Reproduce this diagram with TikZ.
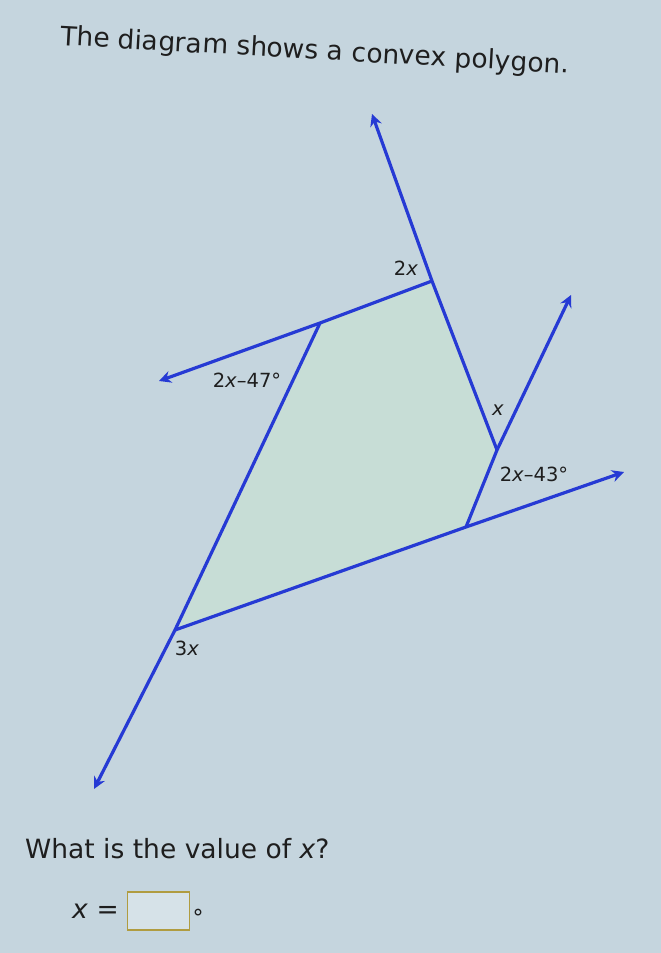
\documentclass[tikz,border=0pt]{standalone}
\usepackage{fontspec}
\setmainfont{DejaVu Sans}
\usetikzlibrary{positioning,arrows.meta}
\definecolor{screen}{RGB}{197,213,222}
\definecolor{inside}{RGB}{199,221,214}
\definecolor{rayblue}{RGB}{38,58,212}
\definecolor{boxline}{RGB}{176,156,64}
\definecolor{ink}{RGB}{30,30,30}

\begin{document}
\begin{tikzpicture}[x=1pt,y=-1pt,
        ray/.style={draw=rayblue,line width=3.2pt,line join=round,-{Stealth[length=12pt,width=12pt]}},
        angle/.style={font=\fontsize{19.5}{19.5}\selectfont,text=ink,inner sep=1pt},
        words/.style={font=\fontsize{26.5}{26.5}\selectfont,text=ink,inner sep=0pt}]
        \fill[screen] (0,0) rectangle (661,953);
        % polygon corners
        \coordinate (A) at (432,281);
        \coordinate (B) at (320,323);
        \coordinate (C) at (175,630);
        \coordinate (D) at (466,527);
        \coordinate (E) at (497,450);
        % ray ends
        \coordinate (tA) at (372,114);
        \coordinate (tB) at (159,381);
        \coordinate (tC) at (94,789);
        \coordinate (tD) at (624,472);
        \coordinate (tE) at (571,295);
        \fill[inside] (A) -- (B) -- (C) -- (D) -- (E) -- cycle;
        \draw[ray] (E) -- (A) -- (tA);
        \draw[ray] (A) -- (B) -- (tB);
        \draw[ray] (B) -- (C) -- (tC);
        \draw[ray] (C) -- (D) -- (tD);
        \draw[ray] (D) -- (E) -- (tE);
        % angle labels
        \node[angle] (a1) at (406,268) {2\textit{x}};
        \node[angle] (a2) at (247,380) {2\textit{x}–47°};
        \node[angle] (a3) at (498,410) {\textit{x}};
        \node[angle] (a4) at (534,474) {2\textit{x}–43°};
        \node[angle] (a5) at (187,648) {3\textit{x}};
        % question
        \node[words,anchor=base west,rotate=-3.2] (title) at (60,45) {The diagram shows a convex polygon.};
        \node[words,anchor=base west] (ask) at (25,858) {What is the value of \textit{x}?};
        \node[words,anchor=base west] (xeq) at (72,918) {\textit{x} =};
        \node[draw=boxline,line width=1.6pt,fill=screen!70!white,minimum width=62pt,minimum height=38pt,inner sep=0pt] (answer) at (158.5,911) {};
        \node[font=\fontsize{22}{22}\selectfont,text=ink,inner sep=0pt,anchor=west] (deg) at ([xshift=2pt,yshift=-6pt]answer.east) {°};
\end{tikzpicture}
\end{document}
